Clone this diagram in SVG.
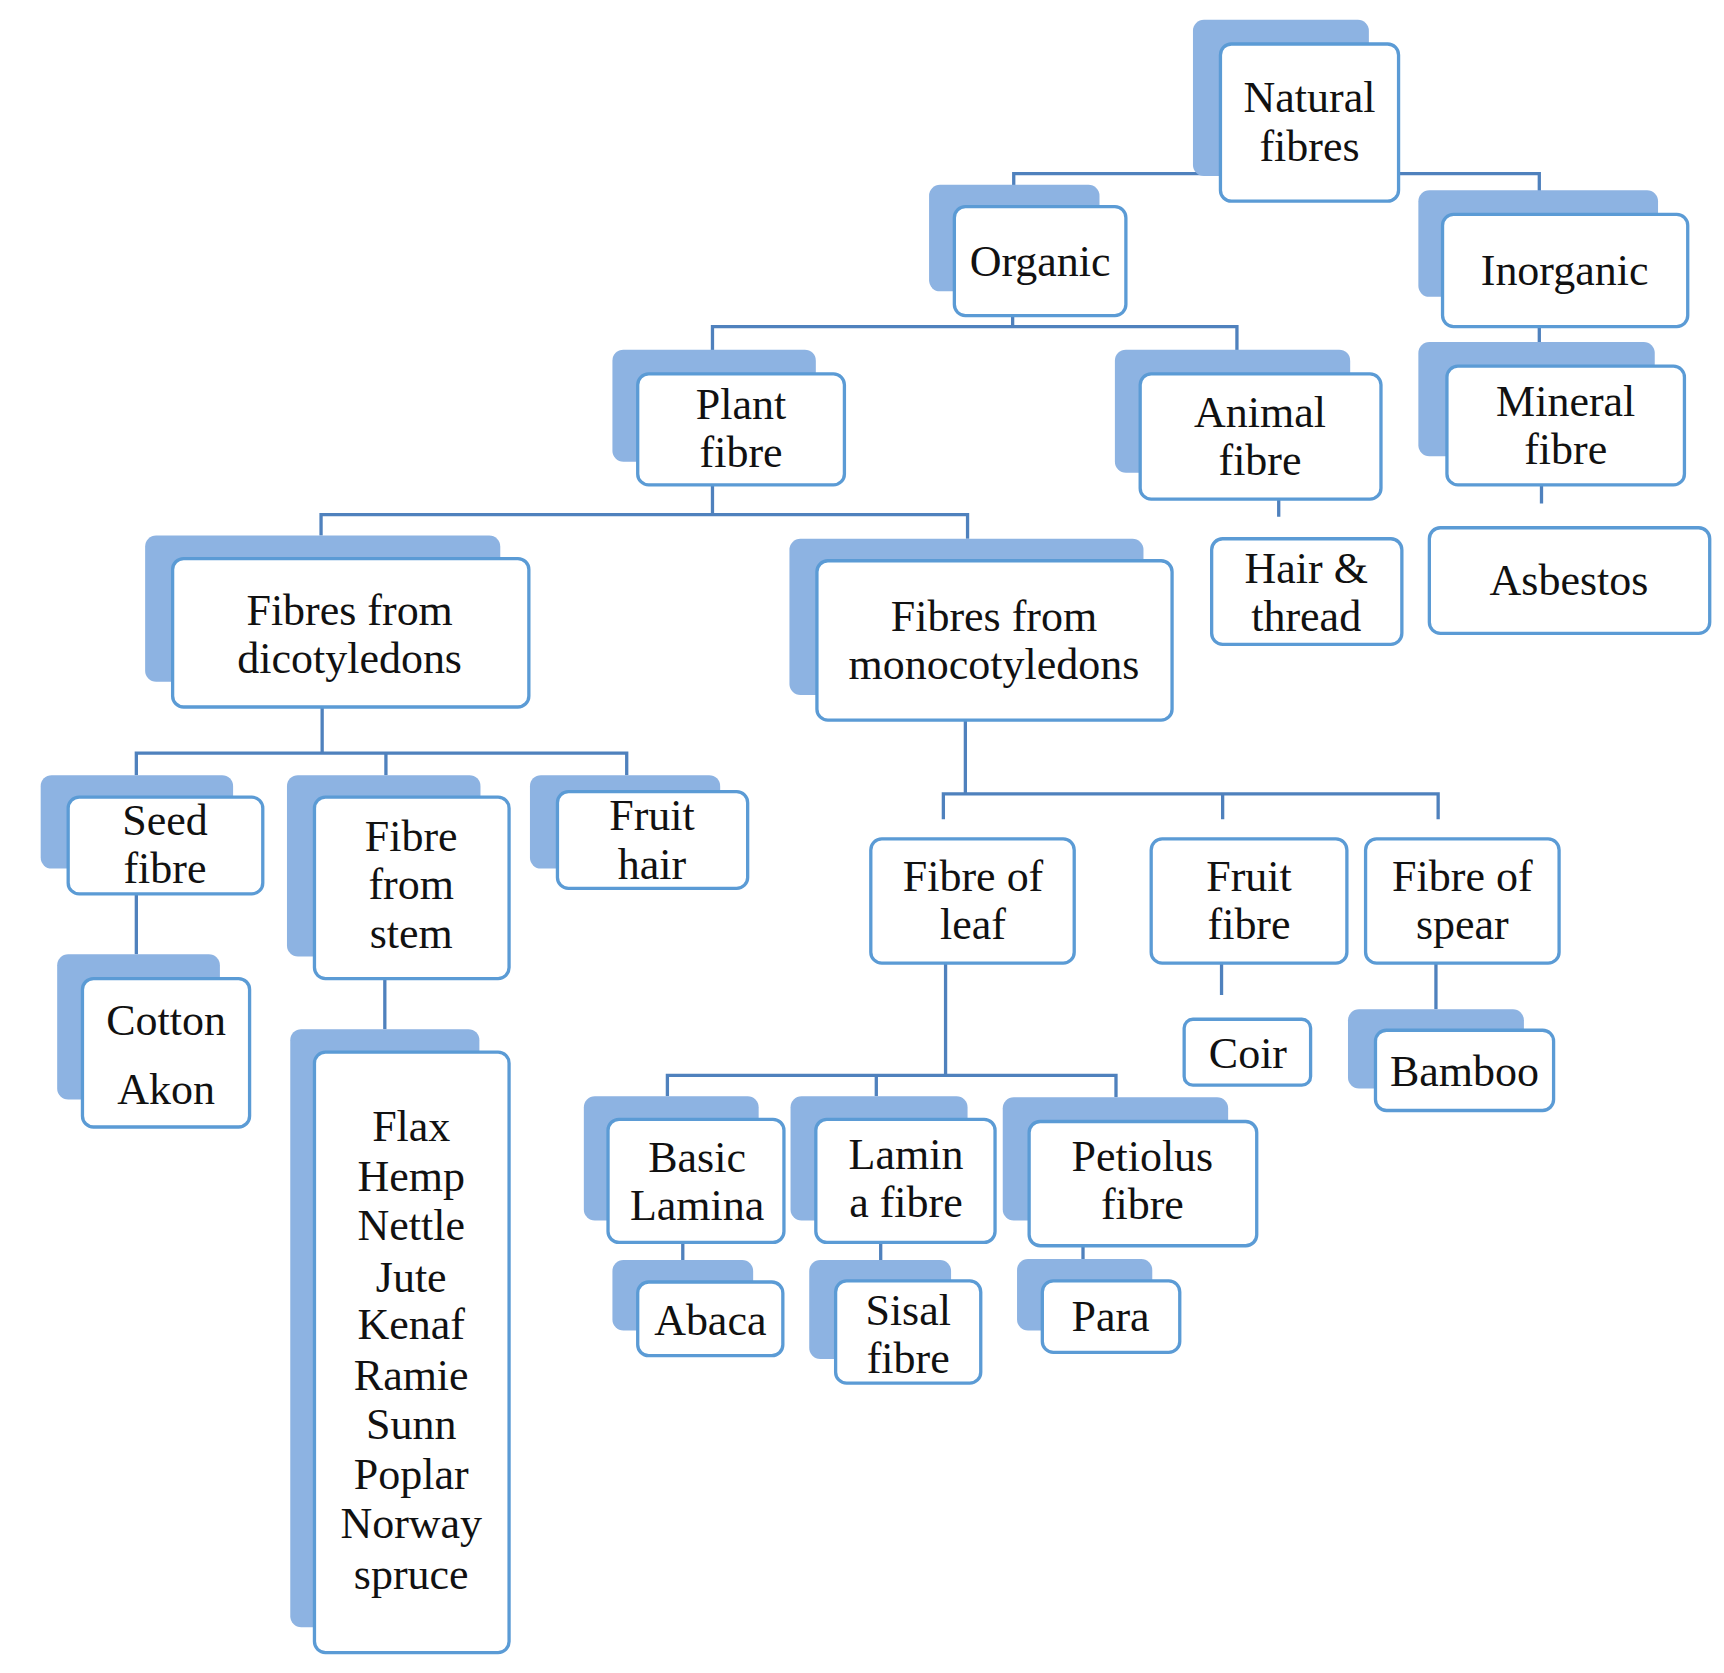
<svg xmlns="http://www.w3.org/2000/svg" width="1724" height="1673" viewBox="0 0 1724 1673">
<style>
.sh{fill:#8db3e2}
.bx{fill:#fff;stroke:#5b9bd5;stroke-width:3}
.c{fill:none;stroke:#4f81bd;stroke-width:3}
text{font-family:"Liberation Serif","Times New Roman",serif;font-size:40px;fill:#111;text-anchor:middle}
</style>
<rect width="1724" height="1673" fill="#fff"/>
<g transform="scale(1.0995)">
<g id="connectors" class="c">
<path d="M922 188V158H1400V195"/>
<path d="M921 287V297M648 340V297H1125V340"/>
<path d="M1400 297V333M1402 441V458M1163 454V470"/>
<path d="M648 441V468M292 487V468H880V490"/>
<path d="M293 643V685M124 705V685H570V705M351 685V705"/>
<path d="M878 655V722M858 745V722H1308V745M1112 722V745"/>
<path d="M124 813V868M350 890V936"/>
<path d="M860 876V978M607 997V978H1015V998M797 978V997"/>
<path d="M1111 876V905M1306 876V918"/>
<path d="M621 1130V1146M801 1130V1146M985 1133V1145"/>
</g>
<g id="n-natural"><rect class="sh" x="1085" y="18" width="160" height="142" rx="10"/><rect class="bx" x="1110" y="40" width="162" height="143" rx="10"/><text x="1191" y="102">Natural</text><text x="1191" y="146">fibres</text></g>
<g id="n-organic"><rect class="sh" x="845" y="168" width="155" height="97" rx="10"/><rect class="bx" x="868" y="188" width="156" height="99" rx="10"/><text x="946" y="251">Organic</text></g>
<g id="n-inorganic"><rect class="sh" x="1290" y="173" width="218" height="97" rx="10"/><rect class="bx" x="1312" y="195" width="223" height="102" rx="10"/><text x="1423" y="259">Inorganic</text></g>
<g id="n-plant"><rect class="sh" x="557" y="318" width="185" height="102" rx="10"/><rect class="bx" x="580" y="340" width="188" height="101" rx="10"/><text x="674" y="381">Plant</text><text x="674" y="425">fibre</text></g>
<g id="n-animal"><rect class="sh" x="1014" y="318" width="214" height="112" rx="10"/><rect class="bx" x="1037" y="340" width="219" height="114" rx="10"/><text x="1146" y="388">Animal</text><text x="1146" y="432">fibre</text></g>
<g id="n-mineral"><rect class="sh" x="1290" y="311" width="215" height="104" rx="10"/><rect class="bx" x="1316" y="333" width="216" height="108" rx="10"/><text x="1424" y="378">Mineral</text><text x="1424" y="422">fibre</text></g>
<g id="n-hair"><rect class="bx" x="1102" y="490" width="173" height="96" rx="10"/><text x="1188" y="530">Hair &amp;</text><text x="1188" y="574">thread</text></g>
<g id="n-asbestos"><rect class="bx" x="1300" y="480" width="255" height="96" rx="10"/><text x="1427" y="541">Asbestos</text></g>
<g id="n-dicot"><rect class="sh" x="132" y="487" width="323" height="133" rx="10"/><rect class="bx" x="157" y="508" width="324" height="135" rx="10"/><text x="318" y="568">Fibres from</text><text x="318" y="612">dicotyledons</text></g>
<g id="n-mono"><rect class="sh" x="718" y="490" width="322" height="142" rx="10"/><rect class="bx" x="743" y="510" width="323" height="145" rx="10"/><text x="904" y="574">Fibres from</text><text x="904" y="618">monocotyledons</text></g>
<g id="n-seed"><rect class="sh" x="37" y="705" width="175" height="85" rx="10"/><rect class="bx" x="62" y="725" width="177" height="88" rx="10"/><text x="150" y="759">Seed</text><text x="150" y="803">fibre</text></g>
<g id="n-stem"><rect class="sh" x="261" y="705" width="176" height="165" rx="10"/><rect class="bx" x="286" y="725" width="177" height="165" rx="10"/><text x="374" y="774">Fibre</text><text x="374" y="818">from</text><text x="374" y="862">stem</text></g>
<g id="n-fruithair"><rect class="sh" x="482" y="705" width="173" height="85" rx="10"/><rect class="bx" x="507" y="720" width="173" height="88" rx="10"/><text x="593" y="755">Fruit</text><text x="593" y="799">hair</text></g>
<g id="n-leaf"><rect class="bx" x="792" y="763" width="185" height="113" rx="10"/><text x="885" y="810">Fibre of</text><text x="885" y="854">leaf</text></g>
<g id="n-fruitfibre"><rect class="bx" x="1047" y="763" width="178" height="113" rx="10"/><text x="1136" y="810">Fruit</text><text x="1136" y="854">fibre</text></g>
<g id="n-spear"><rect class="bx" x="1242" y="763" width="176" height="113" rx="10"/><text x="1330" y="810">Fibre of</text><text x="1330" y="854">spear</text></g>
<g id="n-cotton"><rect class="sh" x="52" y="868" width="148" height="132" rx="10"/><rect class="bx" x="75" y="890" width="152" height="135" rx="10"/><text x="151" y="941">Cotton</text><text x="151" y="1004">Akon</text></g>
<g id="n-flax"><rect class="sh" x="264" y="936" width="172" height="544" rx="10"/><rect class="bx" x="286" y="957" width="177" height="546" rx="10"/>
<text x="374" y="1038">Flax</text><text x="374" y="1083">Hemp</text><text x="374" y="1128">Nettle</text><text x="374" y="1175">Jute</text><text x="374" y="1218">Kenaf</text><text x="374" y="1264">Ramie</text><text x="374" y="1309">Sunn</text><text x="374" y="1354">Poplar</text><text x="374" y="1399">Norway</text><text x="374" y="1445">spruce</text></g>
<g id="n-coir"><rect class="bx" x="1077" y="927" width="115" height="60" rx="8"/><text x="1135" y="971">Coir</text></g>
<g id="n-bamboo"><rect class="sh" x="1226" y="918" width="160" height="72" rx="10"/><rect class="bx" x="1251" y="937" width="162" height="73" rx="10"/><text x="1332" y="988">Bamboo</text></g>
<g id="n-basic"><rect class="sh" x="531" y="997" width="159" height="113" rx="10"/><rect class="bx" x="553" y="1018" width="160" height="112" rx="10"/><text x="634" y="1066">Basic</text><text x="634" y="1110">Lamina</text></g>
<g id="n-lamin"><rect class="sh" x="719" y="997" width="161" height="113" rx="10"/><rect class="bx" x="742" y="1018" width="163" height="112" rx="10"/><text x="824" y="1063">Lamin</text><text x="824" y="1107">a fibre</text></g>
<g id="n-petiolus"><rect class="sh" x="912" y="998" width="205" height="112" rx="10"/><rect class="bx" x="936" y="1020" width="207" height="113" rx="10"/><text x="1039" y="1065">Petiolus</text><text x="1039" y="1109">fibre</text></g>
<g id="n-abaca"><rect class="sh" x="557" y="1146" width="128" height="64" rx="10"/><rect class="bx" x="580" y="1166" width="132" height="67" rx="10"/><text x="646" y="1214">Abaca</text></g>
<g id="n-sisal"><rect class="sh" x="736" y="1146" width="129" height="90" rx="10"/><rect class="bx" x="760" y="1165" width="132" height="93" rx="10"/><text x="826" y="1205">Sisal</text><text x="826" y="1249">fibre</text></g>
<g id="n-para"><rect class="sh" x="925" y="1145" width="123" height="65" rx="10"/><rect class="bx" x="948" y="1165" width="125" height="65" rx="10"/><text x="1010" y="1211">Para</text></g>
</g>
</svg>
